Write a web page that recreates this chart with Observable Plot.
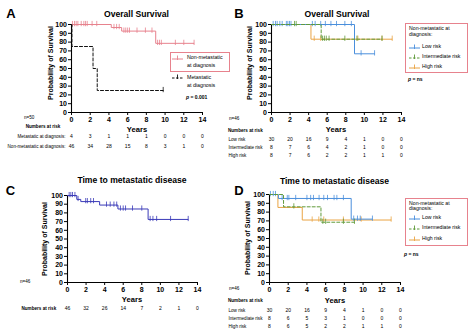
<!DOCTYPE html>
<html><head><meta charset="utf-8">
<script src="https://cdn.jsdelivr.net/npm/d3@7"></script>
<script src="https://cdn.jsdelivr.net/npm/@observablehq/plot@0.6"></script>
<style>
body{margin:0;background:#fff;}
#root{position:relative;width:474px;height:336px;overflow:hidden;font-family:"Liberation Sans",Arial,Helvetica,sans-serif;color:#000;background:#fff;}
.abs{position:absolute;white-space:nowrap;line-height:1;}
</style></head><body><div id="root"></div><script>
// ---------- data ----------
const years = [0, 2, 4, 6, 8, 10, 12, 14];
const yTicks = [0, 10, 20, 30, 40, 50, 60, 70, 80, 90, 100];

// Panel A – Overall survival by metastatic status
const aNonMetDropT = [4.25, 5.36, 9.0];
const aNonMetDropS = [96.6, 92.5, 78.6];
const aNonMetCensor = [0.1, 0.32, 0.5, 0.68, 1.04, 1.32, 1.5, 1.68, 2.2, 2.7, 4.54, 4.82, 5.1, 5.6, 5.8, 6.0, 6.2, 7.0, 7.9, 8.6, 9.2, 9.4, 9.6, 11.1, 12.0, 13.1];
const aNonMetEnd = 13.1;
const aMetDropT = [0.05, 2.3, 2.75];
const aMetDropS = [75, 50, 25];
const aMetCensor = [9.8];
const aMetEnd = 9.8;
const aRiskMet = [4, 3, 1, 1, 1, 0, 0, 0];
const aRiskNonMet = [46, 34, 28, 15, 8, 3, 1, 0];

// Panel B – Overall survival by risk group
const bLowDropT = [8.94];
const bLowDropS = [66.7];
const bLowCensor = [0.18, 0.43, 0.61, 0.9, 1.15, 1.6, 1.76, 1.94, 2.1, 4.4, 4.7, 5.3, 5.8, 6.4, 7.0, 7.9, 8.6, 9.65, 11.1];
const bLowEnd = 11.1;
const bIntDropT = [5.35];
const bIntDropS = [83.3];
const bIntCensor = [2.48, 2.66, 5.5, 5.7, 5.9, 6.2, 7.9, 9.2, 11.9];
const bIntEnd = 11.9;
const bHighDropT = [4.25];
const bHighDropS = [83.3];
const bHighCensor = [4.6, 5.3, 9.3, 11.9, 13.0];
const bHighEnd = 13.0;
const bRiskLow = [30, 20, 16, 9, 4, 1, 0, 0];
const bRiskInt = [8, 7, 6, 4, 2, 1, 0, 0];
const bRiskHigh = [8, 7, 6, 2, 2, 1, 1, 0];

// Panel C – Time to metastatic disease
const cDropT = [1.0, 1.43, 3.46, 5.43, 8.68];
const cDropS = [95.5, 93, 89, 84.5, 72.5];
const cCensor = [0.18, 0.36, 0.54, 0.8, 1.14, 1.96, 2.14, 2.5, 2.8, 4.2, 4.6, 5.0, 5.3, 5.7, 6.0, 6.25, 7.0, 8.0, 8.9, 9.2, 9.6, 11.1, 13.0];
const cEnd = 13.0;
const cRisk = [46, 32, 26, 14, 7, 2, 1, 0];

// Panel D – Time to metastatic disease by risk group
const dLowDropT = [0.95, 8.73];
const dLowDropS = [95.5, 72];
const dLowCensor = [0.1, 0.4, 0.64, 1.35, 1.9, 2.07, 2.8, 4.0, 4.4, 4.7, 5.3, 5.8, 6.2, 6.9, 7.2, 7.9, 9.0, 9.4, 9.7, 11.0];
const dLowEnd = 11.0;
const dIntDropT = [1.5, 5.5];
const dIntDropS = [86, 68.5];
const dIntCensor = [2.6, 5.7, 6.0, 7.9, 9.08];
const dIntEnd = 9.08;
const dHighDropT = [0.9, 3.5];
const dHighDropS = [85.3, 71];
const dHighCensor = [4.56, 5.27, 5.8, 7.9, 9.8, 13.0];
const dHighEnd = 13.0;
const dRiskLow = [30, 20, 16, 9, 4, 1, 0, 0];
const dRiskInt = [8, 6, 5, 3, 1, 0, 0, 0];
const dRiskHigh = [8, 6, 5, 2, 2, 1, 1, 0];

// ---------- styling ----------
const FONT = '"Liberation Sans", Arial, Helvetica, sans-serif';
const PINK = "#e7828d", BLACK = "#111", BLUE = "#4a8fdc", GREEN = "#5f9a3a", ORANGE = "#eaa444", INDIGO = "#3a3ab8";
const root = document.getElementById("root");

function lbl(html, x, y, o = {}) {
  const d = document.createElement("div");
  d.className = "abs";
  d.innerHTML = html;
  d.style.left = x + "px"; d.style.top = y + "px";
  d.style.fontSize = (o.size || 5) + "px";
  d.style.fontWeight = o.bold ? "bold" : "normal";
  if (o.color) d.style.color = o.color;
  const tx = o.anchor === "middle" ? "-50%" : o.anchor === "end" ? "-100%" : "0";
  d.style.transform = `translate(${tx},-50%)` + (o.rotate ? ` rotate(${o.rotate}deg)` : "");
  root.appendChild(d);
  return d;
}
function box(x, y, w, h, color) {
  const d = document.createElement("div");
  d.style.cssText = `position:absolute;left:${x}px;top:${y}px;width:${w}px;height:${h}px;border:1px solid ${color};box-sizing:border-box;`;
  root.appendChild(d);
}
function sample(x, y, color, dash) {
  const ns = "http://www.w3.org/2000/svg";
  const s = document.createElementNS(ns, "svg");
  s.setAttribute("width", 12); s.setAttribute("height", 8);
  s.style.cssText = `position:absolute;left:${x}px;top:${y - 5}px;overflow:visible`;
  s.innerHTML = `<line x1="0" y1="5" x2="11" y2="5" stroke="${color}" stroke-width="1" ${dash ? 'stroke-dasharray="2.5,1.5"' : ""}/><line x1="5.5" y1="1.5" x2="5.5" y2="6" stroke="${color}" stroke-width="0.9"/>`;
  root.appendChild(s);
}

function levelAt(dropT, dropS, t) {
  let s = 100;
  dropT.forEach((dt, i) => { if (dt <= t) s = dropS[i]; });
  return s;
}
function seriesMarks(ser) {
  const pts = [{ t: 0, s: 100 }];
  ser.dropT.forEach((t, i) => pts.push({ t, s: ser.dropS[i] }));
  pts.push({ t: ser.end, s: ser.dropS.length ? ser.dropS[ser.dropS.length - 1] : 100 });
  const cens = ser.censor.map(t => ({ t, s: levelAt(ser.dropT, ser.dropS, t) }));
  const dash = ser.dash ? { strokeDasharray: "3,2" } : {};
  return [
    Plot.line(pts, { x: "t", y: "s", curve: "step-after", stroke: ser.color, strokeWidth: 1, ...dash }),
    Plot.ruleX(cens, { x: "t", y1: d => d.s - 2.5, y2: d => d.s + 3.5, stroke: ser.color, strokeWidth: 0.8 })
  ];
}

function kmPanel(p) {
  const padL = 40, padR = 40, padT = 10, padB = 16;
  const chart = Plot.plot({
    width: p.x1 - p.x0 + padL + padR,
    height: p.y1 - p.y0 + padT + padB,
    marginLeft: padL, marginRight: padR, marginTop: padT, marginBottom: padB,
    x: { domain: [0, 14] },
    y: { domain: [0, 100] },
    style: { fontFamily: FONT, fontSize: "7px", fontWeight: "bold", background: "transparent", overflow: "visible", color: "#000" },
    marks: [
      Plot.axisX({ ticks: years, tickSize: 3, tickPadding: 1.5, label: null }),
      Plot.axisY({ ticks: yTicks, tickSize: 3, tickPadding: 1.5, label: null }),
      Plot.ruleY([0], { strokeWidth: 1.1 }),
      Plot.ruleX([0], { strokeWidth: 1.1 }),
      ...p.series.flatMap(seriesMarks)
    ]
  });
  chart.style.position = "absolute";
  chart.style.left = (p.x0 - padL) + "px";
  chart.style.top = (p.y0 - padT) + "px";
  root.appendChild(chart);
}

function riskPanel(p) {
  const padL = 80, padR = 20, pad = 6;
  const n = p.rows.length;
  const cells = p.rows.flatMap(r => years.map((yr, i) => ({ row: r.label, year: yr, v: String(r.values[i]) })));
  const chart = Plot.plot({
    width: p.x1 - p.x0 + padL + padR,
    height: (n - 1) * p.spacing + 2 * pad,
    marginLeft: padL, marginRight: padR, marginTop: pad, marginBottom: pad,
    x: { domain: [0, 14], axis: null },
    y: { type: "point", domain: p.rows.map(r => r.label), padding: 0, axis: null },
    style: { fontFamily: FONT, fontSize: "5px", background: "transparent", overflow: "visible", color: "#000" },
    marks: [
      Plot.text(cells, { x: "year", y: "row", text: "v", fontSize: 5 }),
      Plot.text(p.rows, { y: "label", text: "label", frameAnchor: "left", textAnchor: p.labelAnchor, dx: p.labelDx, fontSize: 4.6, fontWeight: p.labelBold ? "bold" : "normal" })
    ]
  });
  chart.style.position = "absolute";
  chart.style.left = (p.x0 - padL) + "px";
  chart.style.top = (p.firstY - pad) + "px";
  root.appendChild(chart);
}

// ---------- Panel A ----------
kmPanel({ x0: 71, x1: 202, y0: 24, y1: 112, series: [
  { dropT: aNonMetDropT, dropS: aNonMetDropS, censor: aNonMetCensor, end: aNonMetEnd, color: PINK },
  { dropT: aMetDropT, dropS: aMetDropS, censor: aMetCensor, end: aMetEnd, color: BLACK, dash: true }
]});
riskPanel({ x0: 71, x1: 202, firstY: 136, spacing: 10, labelAnchor: "end", labelDx: -6, rows: [
  { label: "Metastatic at diagnosis:", values: aRiskMet },
  { label: "Non-metastatic at diagnosis:", values: aRiskNonMet }
]});
lbl("A", 11, 12.5, { size: 13, bold: true, anchor: "middle" });
lbl("Overall Survival", 136.5, 14, { size: 8.6, bold: true, anchor: "middle" });
lbl("Probability of Survival", 50, 63, { size: 7, bold: true, anchor: "middle", rotate: -90 });
lbl("Years", 137, 130, { size: 7.6, bold: true, anchor: "middle" });
lbl("n=50", 24, 117.5, { size: 4.6 });
lbl("Numbers at risk", 43, 127, { size: 4.6, bold: true, anchor: "middle" });
box(170, 52, 60, 20, PINK);
sample(172, 59, PINK, false);
lbl("Non-metastatic", 187, 58, { size: 5.3 });
lbl("at diagnosis", 187, 66, { size: 5.3 });
sample(172, 78, BLACK, true);
lbl("Metastatic", 187, 77.5, { size: 5.3 });
lbl("at diagnosis", 187, 85.5, { size: 5.3 });
lbl("<i>p</i> = 0.001", 186, 97, { size: 5, bold: true });

// ---------- Panel B ----------
kmPanel({ x0: 271, x1: 401, y0: 24, y1: 112, series: [
  { dropT: bHighDropT, dropS: bHighDropS, censor: bHighCensor, end: bHighEnd, color: ORANGE },
  { dropT: bLowDropT, dropS: bLowDropS, censor: bLowCensor, end: bLowEnd, color: BLUE },
  { dropT: bIntDropT, dropS: bIntDropS, censor: bIntCensor, end: bIntEnd, color: GREEN, dash: true }
]});
riskPanel({ x0: 271, x1: 401, firstY: 139.3, spacing: 8, labelAnchor: "start", labelDx: -43, rows: [
  { label: "Low risk", values: bRiskLow },
  { label: "Intermediate risk", values: bRiskInt },
  { label: "High risk", values: bRiskHigh }
]});
lbl("B", 239, 13, { size: 13, bold: true, anchor: "middle" });
lbl("Overall Survival", 337, 13.5, { size: 8.6, bold: true, anchor: "middle" });
lbl("Probability of Survival", 248.5, 63, { size: 7, bold: true, anchor: "middle", rotate: -90 });
lbl("Years", 336, 130, { size: 7.6, bold: true, anchor: "middle" });
lbl("n=46", 229, 119, { size: 4.6 });
lbl("Numbers at risk", 228, 131, { size: 4.6, bold: true });
box(405, 23, 63, 50, PINK);
lbl("Non-metastatic at", 409, 29.3, { size: 5.2 });
lbl("diagnosis:", 409, 34.5, { size: 5.2 });
sample(409, 47.5, BLUE, false); lbl("Low risk", 422, 46.7, { size: 5.2 });
sample(409, 57.5, GREEN, true); lbl("Intermediate risk", 422, 56.7, { size: 5.2 });
sample(409, 68, ORANGE, false); lbl("High risk", 422, 67.3, { size: 5.2 });
lbl("<i>p</i> = ns", 408, 79.3, { size: 5, bold: true });

// ---------- Panel C ----------
kmPanel({ x0: 67, x1: 197, y0: 195, y1: 282, series: [
  { dropT: cDropT, dropS: cDropS, censor: cCensor, end: cEnd, color: INDIGO }
]});
riskPanel({ x0: 67, x1: 197, firstY: 308, spacing: 8, labelAnchor: "start", labelDx: -46, labelBold: true, rows: [
  { label: "Numbers at risk", values: cRisk }
]});
lbl("C", 10.5, 190, { size: 13, bold: true, anchor: "middle" });
lbl("Time to metastatic disease", 132, 180, { size: 8.6, bold: true, anchor: "middle" });
lbl("Probability of Survival", 43.5, 238.5, { size: 7, bold: true, anchor: "middle", rotate: -90 });
lbl("Years", 132, 300, { size: 7.6, bold: true, anchor: "middle" });
lbl("n=46", 20, 282, { size: 4.6 });

// ---------- Panel D ----------
kmPanel({ x0: 269, x1: 400, y0: 194, y1: 282, series: [
  { dropT: dHighDropT, dropS: dHighDropS, censor: dHighCensor, end: dHighEnd, color: ORANGE },
  { dropT: dLowDropT, dropS: dLowDropS, censor: dLowCensor, end: dLowEnd, color: BLUE },
  { dropT: dIntDropT, dropS: dIntDropS, censor: dIntCensor, end: dIntEnd, color: GREEN, dash: true }
]});
riskPanel({ x0: 269, x1: 400, firstY: 309, spacing: 8.5, labelAnchor: "start", labelDx: -41, rows: [
  { label: "Low risk", values: dRiskLow },
  { label: "Intermediate risk", values: dRiskInt },
  { label: "High risk", values: dRiskHigh }
]});
lbl("D", 239, 190, { size: 13, bold: true, anchor: "middle" });
lbl("Time to metastatic disease", 334.5, 180.7, { size: 8.6, bold: true, anchor: "middle" });
lbl("Probability of Survival", 247, 237.5, { size: 7, bold: true, anchor: "middle", rotate: -90 });
lbl("Years", 335, 300.7, { size: 7.6, bold: true, anchor: "middle" });
lbl("n=46", 229, 288.5, { size: 4.6 });
lbl("Numbers at risk", 228, 301, { size: 4.6, bold: true });
box(405, 198, 63, 48, PINK);
lbl("Non-metastatic at", 409, 203.5, { size: 5.2 });
lbl("diagnosis:", 409, 208.7, { size: 5.2 });
sample(409, 218.5, BLUE, false); lbl("Low risk", 422, 217.7, { size: 5.2 });
sample(409, 228.5, GREEN, true); lbl("Intermediate risk", 422, 227.7, { size: 5.2 });
sample(409, 240, ORANGE, false); lbl("High risk", 422, 239.3, { size: 5.2 });
lbl("<i>p</i> = ns", 404, 254, { size: 5, bold: true });
</script></body></html>
